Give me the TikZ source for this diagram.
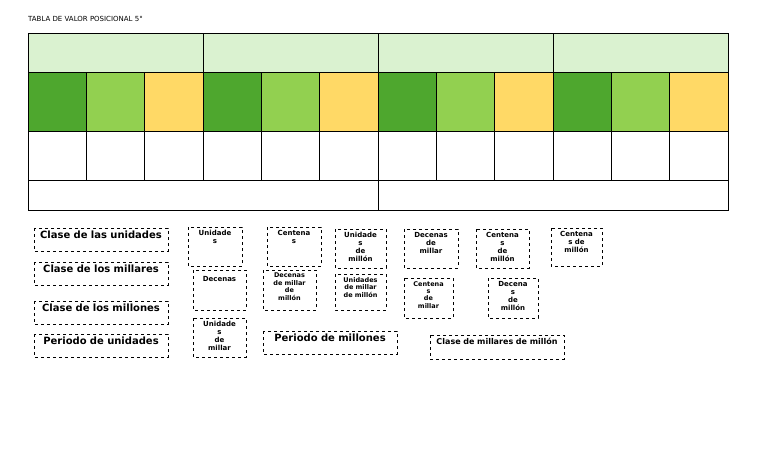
\documentclass[tikz,border=0pt]{standalone}
\usepackage{fontspec}
\setmainfont{DejaVu Sans}
\definecolor{lg}{HTML}{DAF2D0}
\definecolor{dg}{HTML}{4EA72E}
\definecolor{mg}{HTML}{92D050}
\definecolor{yl}{HTML}{FFD966}
\tikzset{cell/.style={draw=black,line width=0.6pt},
 card/.style={draw=black,dashed,line width=0.7pt}}
\newcommand{\cardbox}[7]{% name,x1,y1,x2,y2,size,text
 \pgfmathsetmacro{\cw}{#4-#2-4}
 \pgfmathsetmacro{\bl}{#6*1.15}
 \begin{scope}
 \clip (#2,#3) rectangle (#4,#5);
 \node[anchor=north,text width=\cw pt,align=center,inner sep=0pt,font=\fontsize{#6}{\bl}\selectfont\bfseries] (#1t) at ({(#2+#4)/2},#3+3) {#7};
 \end{scope}
 \draw[card] (#2,#3) rectangle (#4,#5) coordinate (#1);
}
\begin{document}
\begin{tikzpicture}[x=1pt,y=-1pt]
\useasboundingbox (0,0) rectangle (768,466);
\fill[white] (0,0) rectangle (768,466);
\node[anchor=west,inner sep=0pt,font=\fontsize{7}{8}\selectfont] (title) at (28,19) {TABLA DE VALOR POSICIONAL 5°};
\foreach \g in {0,1,2,3}{
 \draw[cell,fill=lg] ({28+175*\g},33) rectangle ({28+175*(\g+1)},72);
}
\foreach \i in {0,...,11}{
 \pgfmathtruncatemacro{\m}{mod(\i,3)}
 \ifcase\m \def\c{dg}\or \def\c{mg}\or \def\c{yl}\fi
 \draw[cell,fill=\c] ({28+700/12*\i},72) rectangle ({28+700/12*(\i+1)},131);
 \draw[cell] ({28+700/12*\i},131) rectangle ({28+700/12*(\i+1)},180);
}
\draw[cell] (28,180) rectangle (378,210);
\draw[cell] (378,180) rectangle (728,210);
\cardbox{b1}{34}{228}{168}{251}{10}{Clase de las unidades}
\cardbox{b2}{34}{262}{168}{285}{10}{Clase de los millares}
\cardbox{b3}{34}{301}{168}{324}{10}{Clase de los millones}
\cardbox{b4}{34}{334}{168}{357}{10}{Periodo de unidades}
\cardbox{b5}{188}{227}{242}{266}{7}{Unidade\\s}
\cardbox{b6}{267}{227}{321}{266}{7}{Centena\\s}
\cardbox{b7}{335}{229}{386}{268}{7}{Unidade\\s\\de\\millón}
\cardbox{b8}{404}{229}{458}{268}{7}{Decenas\\de\\millar}
\cardbox{b9}{476}{229}{529}{268}{7}{Centena\\s\\de\\millón}
\cardbox{b10}{551}{228}{602}{266}{7}{Centena\\s de\\millón}
\cardbox{b11}{193}{270}{246}{310}{7}{~\\Decenas}
\cardbox{b12}{263}{270}{316}{310}{6.5}{Decenas\\de millar\\de\\millón}
\cardbox{b13}{335}{274}{386}{310}{6.5}{Unidades\\de millar\\de millón}
\cardbox{b14}{404}{278}{453}{318}{6.5}{Centena\\s\\de\\millar}
\cardbox{b15}{488}{278}{538}{318}{7}{Decena\\s\\de\\millón}
\cardbox{b16}{193}{318}{246}{357}{7}{Unidade\\s\\de\\millar}
\cardbox{b17}{263}{331}{397}{354}{10}{Periodo de millones}
\cardbox{b18}{430}{335}{564}{359}{8}{Clase de millares de millón}
\end{tikzpicture}
\end{document}
